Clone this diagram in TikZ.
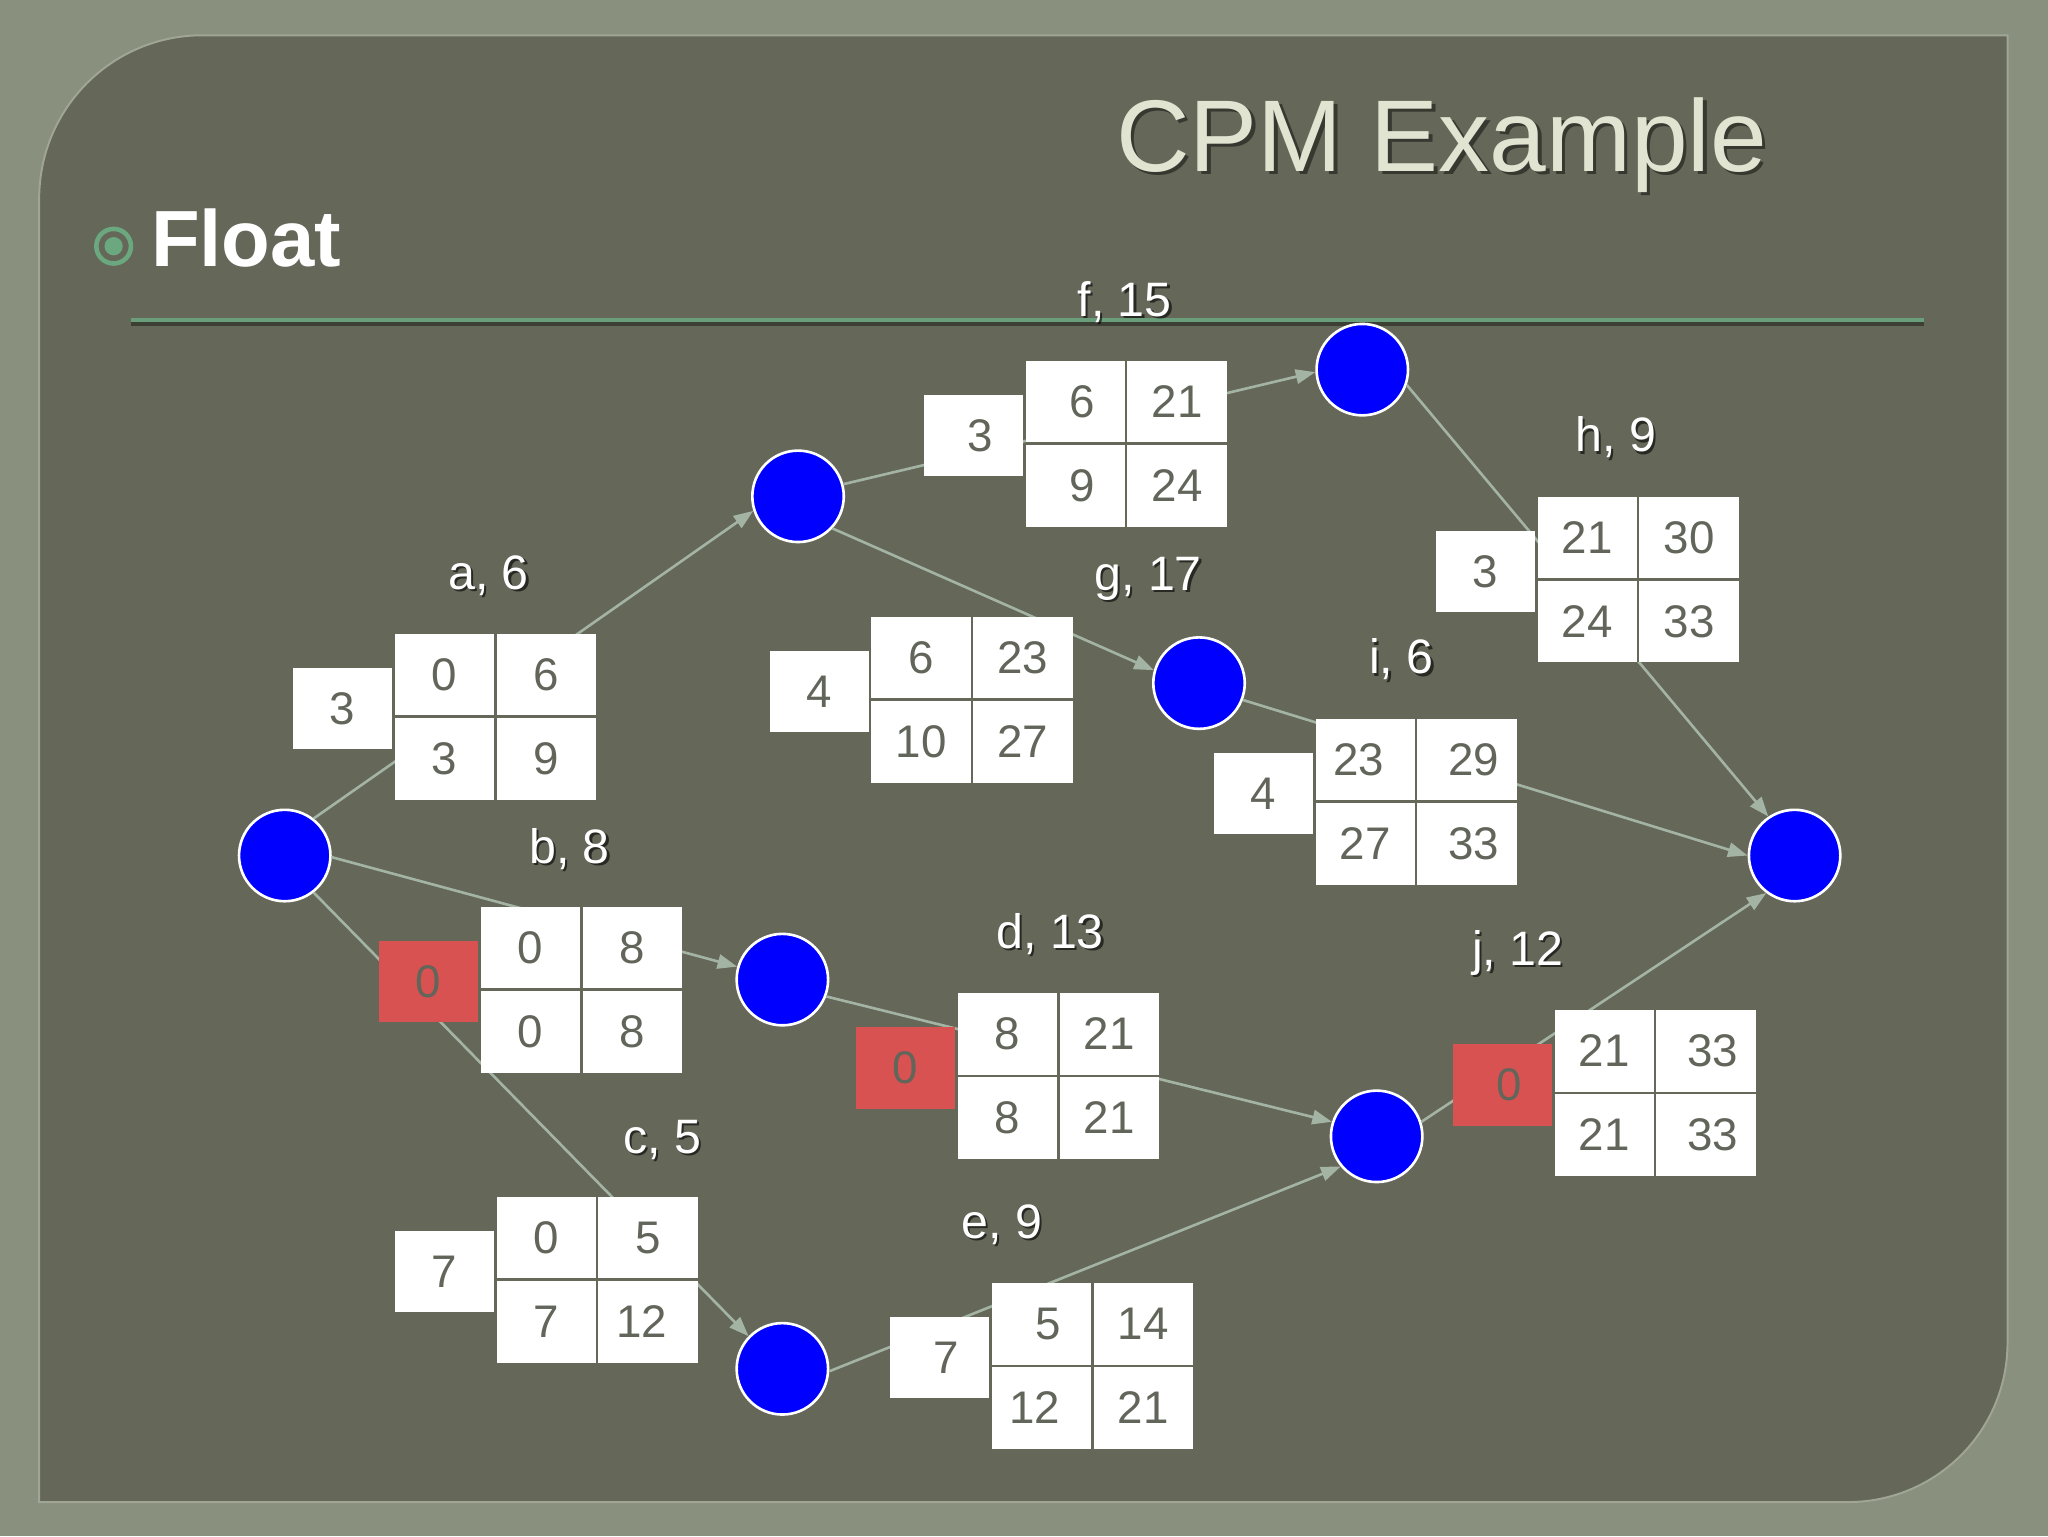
\documentclass[tikz,border=0pt]{standalone}
\usepackage{fontspec}
\setmainfont{Liberation Sans}
\usetikzlibrary{arrows.meta}
\definecolor{outerbg}{HTML}{8A907E}
\definecolor{panel}{HTML}{656759}
\definecolor{rim}{HTML}{A0A694}
\definecolor{rulecol}{HTML}{6A9E7A}
\definecolor{ruleshadow}{HTML}{3C3F34}
\definecolor{conncol}{HTML}{A4B4A4}
\definecolor{cellgray}{HTML}{62655A}
\definecolor{gridgap}{HTML}{66685A}
\definecolor{redcell}{HTML}{D95252}
\definecolor{titlecol}{HTML}{E2E4D2}
\definecolor{bulletgreen}{HTML}{6BA87F}

\newcommand{\rsh}[1]{\hspace*{10pt}#1}
\newcommand{\lsh}[1]{#1\hspace*{10pt}}

\newcommand{\actgrid}[9]{%
  \node[gridback,anchor=north west] (#1bk) at (#2,#3) {};
  \node[cell,anchor=north west] (#1es) at (#2,#3) {#5};
  \node[cell,anchor=north west] (#1ef) at ({#2+78},#3) {#6};
  \node[cell,anchor=north west] (#1ls) at (#2,{#3+64.5}) {#7};
  \node[cell,anchor=north west] (#1lf) at ({#2+78},{#3+64.5}) {#8};
  \node[cell,#9,anchor=north west] (#1fl) at ({#2-78},{#3+26}) {#4};
}
\newcommand{\actlabel}[4]{%
  \node[lblshadow] (#1sh) at ({#2+1.8},{#3+1.8}) {#4};
  \node[lbl] (#1) at (#2,#3) {#4};
}

\begin{document}
\begin{tikzpicture}[x=1pt,y=-1pt,
  cell/.style={rectangle, fill=white, minimum width=76pt, minimum height=62.5pt, inner sep=0pt, font=\fontsize{35}{35}\selectfont, text=cellgray},
  gridback/.style={rectangle, fill=gridgap, minimum width=154pt, minimum height=127pt, inner sep=0pt},
  redbox/.style={fill=redcell},
  plainbox/.style={},
  event/.style={circle, fill=blue, draw=white, line width=2pt, minimum size=70pt, inner sep=0pt},
  conn/.style={draw=conncol, line width=2pt, -{Triangle[length=15pt,width=11pt]}},
  lbl/.style={font=\fontsize{37}{37}\selectfont, text=white, anchor=base, inner sep=0pt},
  lblshadow/.style={font=\fontsize{37}{37}\selectfont, text=black, opacity=0.6, anchor=base, inner sep=0pt},
]
\useasboundingbox (0,0) rectangle (1568,1176);
\fill[outerbg] (0,0) rectangle (1568,1176);
\draw[fill=panel, draw=rim, line width=1.5pt] (30,152) arc[start angle=180,end angle=270,radius=125] -- (1537,27) -- (1537,1028) arc[start angle=0,end angle=90,radius=122] -- (30,1150) -- cycle;

% title
\node[anchor=base west, font=\fontsize{78}{78}\selectfont, text=black, opacity=0.45, inner sep=0pt] (titlesh) at (857,133.5) {CPM Example};
\node[anchor=base west, font=\fontsize{78}{78}\selectfont, text=titlecol, inner sep=0pt] (title) at (854.5,131) {CPM Example};

% bullet
\node[circle, draw=bulletgreen, line width=3.5pt, minimum size=26.5pt, inner sep=0pt] (bullet) at (87,188.5) {};
\node[circle, fill=bulletgreen, minimum size=14pt, inner sep=0pt] (bulletdot) at (87,188.5) {};
\node[anchor=base west, font=\bfseries\fontsize{61}{61}\selectfont, text=white, inner sep=0pt] (float) at (115.5,204) {Float};

% rule
\draw[ruleshadow, line width=2.5pt] (100,248) -- (1473,248);
\draw[rulecol, line width=2.5pt] (100,245) -- (1473,245);

% events
\node[event] (n1) at (218,655) {};
\node[event] (n2) at (611,380) {};
\node[event] (n3) at (1043,283) {};
\node[event] (n4) at (918,523) {};
\node[event] (n5) at (599,750) {};
\node[event] (n6) at (1054,870) {};
\node[event] (n7) at (599,1048) {};
\node[event] (n8) at (1374,655) {};

% connectors
\draw[conn] (n1.52) -- (n2.198);
\draw[conn] (n1.-2) -- (n5.164);
\draw[conn] (n1.308) -- (n7.136);
\draw[conn] (n5.339) -- (n6.162);
\draw[conn] (n7.357) -- (n6.220);
\draw[conn] (n2.15) -- (n3.183);
\draw[conn] (n2.317) -- (n4.164);
\draw[conn] (n3.341) -- (n8.124);
\draw[conn] (n4.339) -- (n8.180);
\draw[conn] (n6.18) -- (n8.233);

% activity boxes
\actgrid{a}{302}{485}{3}{0}{6}{3}{9}{plainbox}
\actgrid{b}{368}{694}{0}{0}{8}{0}{8}{redbox}
\actgrid{c}{380}{916}{7}{0}{5}{7}{\lsh{12}}{plainbox}
\actgrid{d}{733}{760}{0}{8}{21}{8}{21}{redbox}
\actgrid{e}{759}{982}{\rsh{7}}{\rsh{5}}{14}{\lsh{12}}{21}{plainbox}
\actgrid{f}{785}{276}{\rsh{3}}{\rsh{6}}{21}{\rsh{9}}{24}{plainbox}
\actgrid{g}{667}{472}{4}{6}{23}{10}{27}{plainbox}
\actgrid{h}{1177}{380}{3}{21}{30}{24}{33}{plainbox}
\actgrid{i}{1007}{550}{4}{\lsh{23}}{\rsh{29}}{27}{\rsh{33}}{plainbox}
\actgrid{j}{1190}{773}{\rsh{0}}{21}{\rsh{33}}{21}{\rsh{33}}{redbox}

% labels
\actlabel{la}{374}{451}{a, 6}
\actlabel{lb}{436}{661}{b, 8}
\actlabel{lc}{507}{883}{c, 5}
\actlabel{ld}{804}{726}{d, 13}
\actlabel{le}{767}{948}{e, 9}
\actlabel{lf}{861}{242}{f, 15}
\actlabel{lg}{879}{452}{g, 17}
\actlabel{lh}{1237}{346}{h, 9}
\actlabel{li}{1073}{516}{i, 6}
\actlabel{lj}{1162}{739}{j, 12}
\end{tikzpicture}
\end{document}
